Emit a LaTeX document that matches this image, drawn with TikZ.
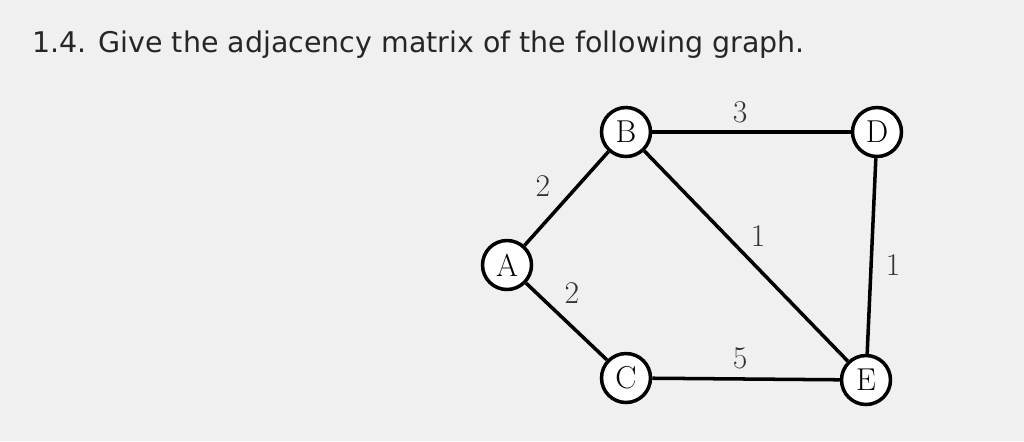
\documentclass[tikz,border=0pt]{standalone}
\usepackage{fontspec}
\newfontfamily\titlefont{DejaVu Sans}
\begin{document}
\begin{tikzpicture}[x=0.02cm,y=-0.02cm,
  vert/.style={circle,draw=black,line width=2pt,fill=white,minimum size=0.98cm,inner sep=0pt,font=\fontsize{18}{18}\selectfont},
  edge/.style={line width=2pt},
  wlab/.style={font=\fontsize{18}{18}\selectfont,text=black!80}]
\fill[black!6] (0,0) rectangle (1024,441);
\useasboundingbox (0,0) rectangle (1024,441);
\node[anchor=west,font=\titlefont\fontsize{16.2}{18}\selectfont,text=black!85] (t) at (26,45) {1.4. Give the adjacency matrix of the following graph.};
\node[vert] (A) at (507,265) {A};
\node[vert] (B) at (626,132) {B};
\node[vert] (C) at (626,378) {C};
\node[vert] (D) at (877,132) {D};
\node[vert] (E) at (866,380) {E};
\draw[edge] (A) -- (B);
\draw[edge] (A) -- (C);
\draw[edge] (B) -- (D);
\draw[edge] (B) -- (E);
\draw[edge] (C) -- (E);
\draw[edge] (D) -- (E);
\node[wlab] (l1) at (740,112) {3};
\node[wlab] (l2) at (543,186) {2};
\node[wlab] (l3) at (572,293) {2};
\node[wlab] (l4) at (758,236) {1};
\node[wlab] (l5) at (893,265) {1};
\node[wlab] (l6) at (740,358) {5};
\end{tikzpicture}
\end{document}
